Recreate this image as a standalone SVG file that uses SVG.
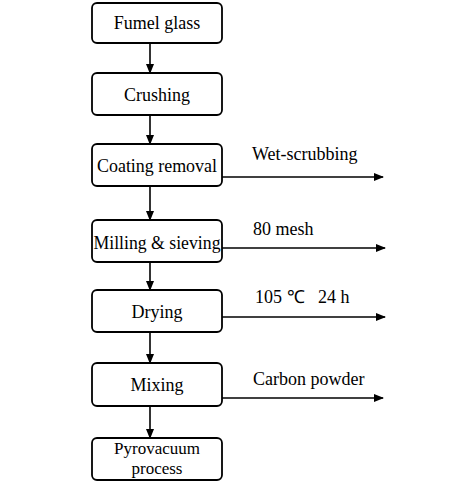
<svg xmlns="http://www.w3.org/2000/svg" width="474" height="492" viewBox="0 0 474 492">
<defs>
<marker id="ah" markerWidth="10" markerHeight="8" refX="9" refY="4" orient="auto" markerUnits="userSpaceOnUse">
<path d="M0,0 L10,4 L0,8 Z" fill="#000"/>
</marker>
<style>
.box{fill:#fff;stroke:#000;stroke-width:1.8}
.t{font-family:"Liberation Serif","Times New Roman",serif;font-size:18px;fill:#000;text-anchor:middle}
.l{font-family:"Liberation Serif","Times New Roman",serif;font-size:18px;fill:#000}
.s{font-size:17px}
.c{stroke:#000;stroke-width:1.6;fill:none;marker-end:url(#ah)}
</style>
</defs>
<rect width="474" height="492" fill="#fff"/>
<g id="connectors">
<line class="c" x1="150" y1="43" x2="150" y2="73"/>
<line class="c" x1="150" y1="115" x2="150" y2="144"/>
<line class="c" x1="150" y1="186" x2="150" y2="220"/>
<line class="c" x1="150" y1="262" x2="150" y2="290"/>
<line class="c" x1="150" y1="332" x2="150" y2="363"/>
<line class="c" x1="150" y1="406" x2="150" y2="438"/>
<line class="c" x1="222" y1="177" x2="383" y2="177"/>
<line class="c" x1="222" y1="248" x2="385" y2="248"/>
<line class="c" x1="222" y1="317" x2="385" y2="317"/>
<line class="c" x1="222" y1="398" x2="383" y2="398"/>
</g>
<g id="n1"><rect class="box" x="92" y="3" width="130" height="40" rx="5"/><text class="t" x="157" y="29">Fumel glass</text></g>
<g id="n2"><rect class="box" x="92" y="73" width="130" height="42" rx="5"/><text class="t" x="157" y="101">Crushing</text></g>
<g id="n3"><rect class="box" x="92" y="144" width="130" height="42" rx="5"/><text class="t" x="157" y="172" textLength="120" lengthAdjust="spacingAndGlyphs">Coating removal</text></g>
<g id="n4"><rect class="box" x="92" y="220" width="130" height="42" rx="5"/><text class="t" x="157" y="249" textLength="127" lengthAdjust="spacingAndGlyphs">Milling &amp; sieving</text></g>
<g id="n5"><rect class="box" x="92" y="290" width="130" height="42" rx="5"/><text class="t" x="157" y="318">Drying</text></g>
<g id="n6"><rect class="box" x="92" y="363" width="130" height="43" rx="5"/><text class="t" x="157" y="391">Mixing</text></g>
<g id="n7"><rect class="box" x="92" y="438" width="130" height="42" rx="5"/><text class="t s" x="157" y="454">Pyrovacuum</text><text class="t s" x="157" y="474">process</text></g>
<g id="labels">
<text class="l" x="252" y="160">Wet-scrubbing</text>
<text class="l" x="253" y="235">80 mesh</text>
<text class="l" x="255" y="303" xml:space="preserve">105 ℃   24 h</text>
<text class="l" x="253" y="385">Carbon powder</text>
</g>
</svg>
